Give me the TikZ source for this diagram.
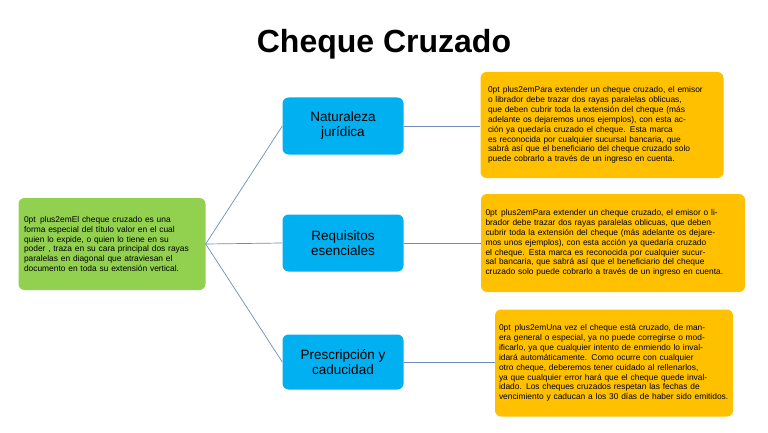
\documentclass[tikz,border=0pt]{standalone}
\usepackage{fontspec}
\setmainfont{Liberation Sans}
\begin{document}
\begin{tikzpicture}[x=1pt,y=-1pt,
  box/.style={rounded corners=6pt,align=center,inner sep=2pt},
  small/.style={font=\fontsize{8.4}{9.9}\selectfont\hyphenpenalty=10000\exhyphenpenalty=10000},
  greenbox/.style={box,small,fill={rgb,255:red,146;green,208;blue,80}},
  bluebox/.style={box,fill={rgb,255:red,0;green,176;blue,240},font=\fontsize{13.5}{15}\selectfont,minimum width=121pt,minimum height=57pt},
  orangebox/.style={box,small,fill={rgb,255:red,255;green,192;blue,0}},
  link/.style={draw={rgb,255:red,110;green,140;blue,190},line width=0.7pt}]
\useasboundingbox (0,0) rectangle (768,433);
\node[font=\bfseries\fontsize{32}{36}\selectfont] (title) at (384,44) {Cheque Cruzado};
\node[greenbox,minimum width=187pt,minimum height=92pt,text width=176pt] (g) at (112,244) {El cheque cruzado es una forma especial del título valor en el cual quien lo expide, o quien lo tiene en su poder , traza en su cara principal dos rayas paralelas en diagonal que atraviesan el documento en toda su extensión vertical.};
\node[bluebox] (b1) at (343,126) {Naturaleza\\jurídica};
\node[bluebox] (b2) at (343,243) {Requisitos\\esenciales};
\node[bluebox,minimum height=55pt] (b3) at (343,362) {Prescripción y\\caducidad};
\node[orangebox,minimum width=243pt,minimum height=106pt,text width=228pt] (o1) at (602,125) {Para extender un cheque cruzado, el emisor o librador debe trazar dos rayas paralelas oblicuas, que deben cubrir toda la extensión del cheque (más adelante os dejaremos unos ejemplos), con esta acción ya quedaría cruzado el cheque. Esta marca es reconocida por cualquier sucursal bancaria, que sabrá así que el beneficiario del cheque cruzado solo puede cobrarlo a través de un ingreso en cuenta.};
\node[orangebox,minimum width=264pt,minimum height=98pt,text width=255pt] (o2) at (613,243) {Para extender un cheque cruzado, el emisor o librador debe trazar dos rayas paralelas oblicuas, que deben cubrir toda la extensión del cheque (más adelante os dejaremos unos ejemplos), con esta acción ya quedaría cruzado el cheque. Esta marca es reconocida por cualquier sucursal bancaria, que sabrá así que el beneficiario del cheque cruzado solo puede cobrarlo a través de un ingreso en cuenta.};
\node[orangebox,minimum width=238pt,minimum height=107pt,text width=230pt] (o3) at (614,363) {Una vez el cheque está cruzado, de manera general o especial, ya no puede corregirse o modificarlo, ya que cualquier intento de enmiendo lo invalidará automáticamente. Como ocurre con cualquier otro cheque, deberemos tener cuidado al rellenarlos, ya que cualquier error hará que el cheque quede invalidado. Los cheques cruzados respetan las fechas de vencimiento y caducan a los 30 días de haber sido emitidos.};
\draw[link] (g.east) -- (b1.west);
\draw[link] (g.east) -- (b2.west);
\draw[link] (g.east) -- (b3.west);
\draw[link] (b1.east) -- (b1.east -| o1.west);
\draw[link] (b2.east) -- (b2.east -| o2.west);
\draw[link] (b3.east) -- (b3.east -| o3.west);
\end{tikzpicture}
\end{document}
